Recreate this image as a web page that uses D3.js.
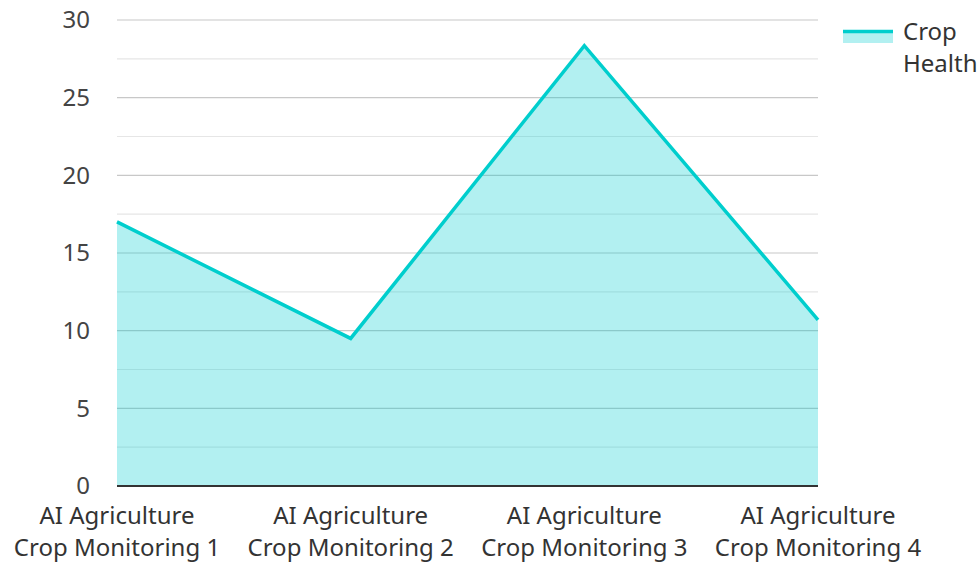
<!DOCTYPE html>
<html><head><meta charset="utf-8">
<script src="https://cdn.jsdelivr.net/npm/d3@7"></script>
<style>body{margin:0;background:#fff}svg{display:block;font-family:"Noto Sans",sans-serif}</style>
</head><body>
<svg id="c" width="980" height="562"></svg>
<script>
const categories = ["AI Agriculture Crop Monitoring 1","AI Agriculture Crop Monitoring 2","AI Agriculture Crop Monitoring 3","AI Agriculture Crop Monitoring 4"];
const labelLines = [["AI Agriculture","Crop Monitoring 1"],["AI Agriculture","Crop Monitoring 2"],["AI Agriculture","Crop Monitoring 3"],["AI Agriculture","Crop Monitoring 4"]];
const cropHealth = [17.0, 9.5, 28.35, 10.7];
const majorTicks = [0,5,10,15,20,25,30];
const minorTicks = [2.5,7.5,12.5,17.5,22.5,27.5];
const seriesName = ["Crop","Health"];

const svg = d3.select("#c");
const L=117,R=818,T=20,B=486;
const x = d3.scalePoint().domain(categories).range([L,R]);
const y = d3.scaleLinear().domain([0,30]).range([B,T]);

svg.append("g").selectAll("line").data(minorTicks).join("line")
  .attr("x1",L).attr("x2",R).attr("y1",d=>y(d)).attr("y2",d=>y(d))
  .attr("stroke","#e6e6e6").attr("stroke-width",1.2);
svg.append("g").selectAll("line").data(majorTicks.filter(d=>d>0)).join("line")
  .attr("x1",L).attr("x2",R).attr("y1",d=>y(d)).attr("y2",d=>y(d))
  .attr("stroke","#c8c8c8").attr("stroke-width",1.2);

const area = d3.area().x((d,i)=>x(categories[i])).y0(B).y1(d=>y(d));
svg.append("path").datum(cropHealth).attr("d",area).attr("fill","rgba(0,206,209,0.3)");
const line = d3.line().x((d,i)=>x(categories[i])).y(d=>y(d));
svg.append("path").datum(cropHealth).attr("d",line).attr("fill","none")
  .attr("stroke","#00cecd").attr("stroke-width",3.5).attr("stroke-linejoin","miter");

svg.append("line").attr("x1",L).attr("x2",R).attr("y1",B).attr("y2",B)
  .attr("stroke","#333").attr("stroke-width",2);

svg.append("g").selectAll("text").data(majorTicks).join("text")
  .attr("x",90).attr("y",d=>y(d)).attr("dy","0.35em").attr("text-anchor","end")
  .attr("font-size",24).attr("fill","#444").text(d=>d);

const xl = svg.append("g").selectAll("text").data(categories).join("text")
  .attr("x",d=>x(d)).attr("y",524).attr("text-anchor","middle")
  .attr("font-size",24).attr("fill","#333");
xl.each(function(d,i){
  const t=d3.select(this);
  labelLines[i].forEach((s,j)=>t.append("tspan").attr("x",x(d)).attr("dy",j?32:0).text(s));
});

const lg = svg.append("g");
lg.append("rect").attr("x",843).attr("y",31).attr("width",50).attr("height",12).attr("fill","rgba(0,206,209,0.3)");
lg.append("line").attr("x1",843).attr("x2",893).attr("y1",31.5).attr("y2",31.5).attr("stroke","#00cecd").attr("stroke-width",3.5);
lg.append("text").attr("x",903).attr("y",40).attr("font-size",24).attr("fill","#333")
  .selectAll("tspan").data(seriesName).join("tspan").attr("x",903).attr("dy",(d,i)=>i?32:0).text(d=>d);
</script>
</body></html>
